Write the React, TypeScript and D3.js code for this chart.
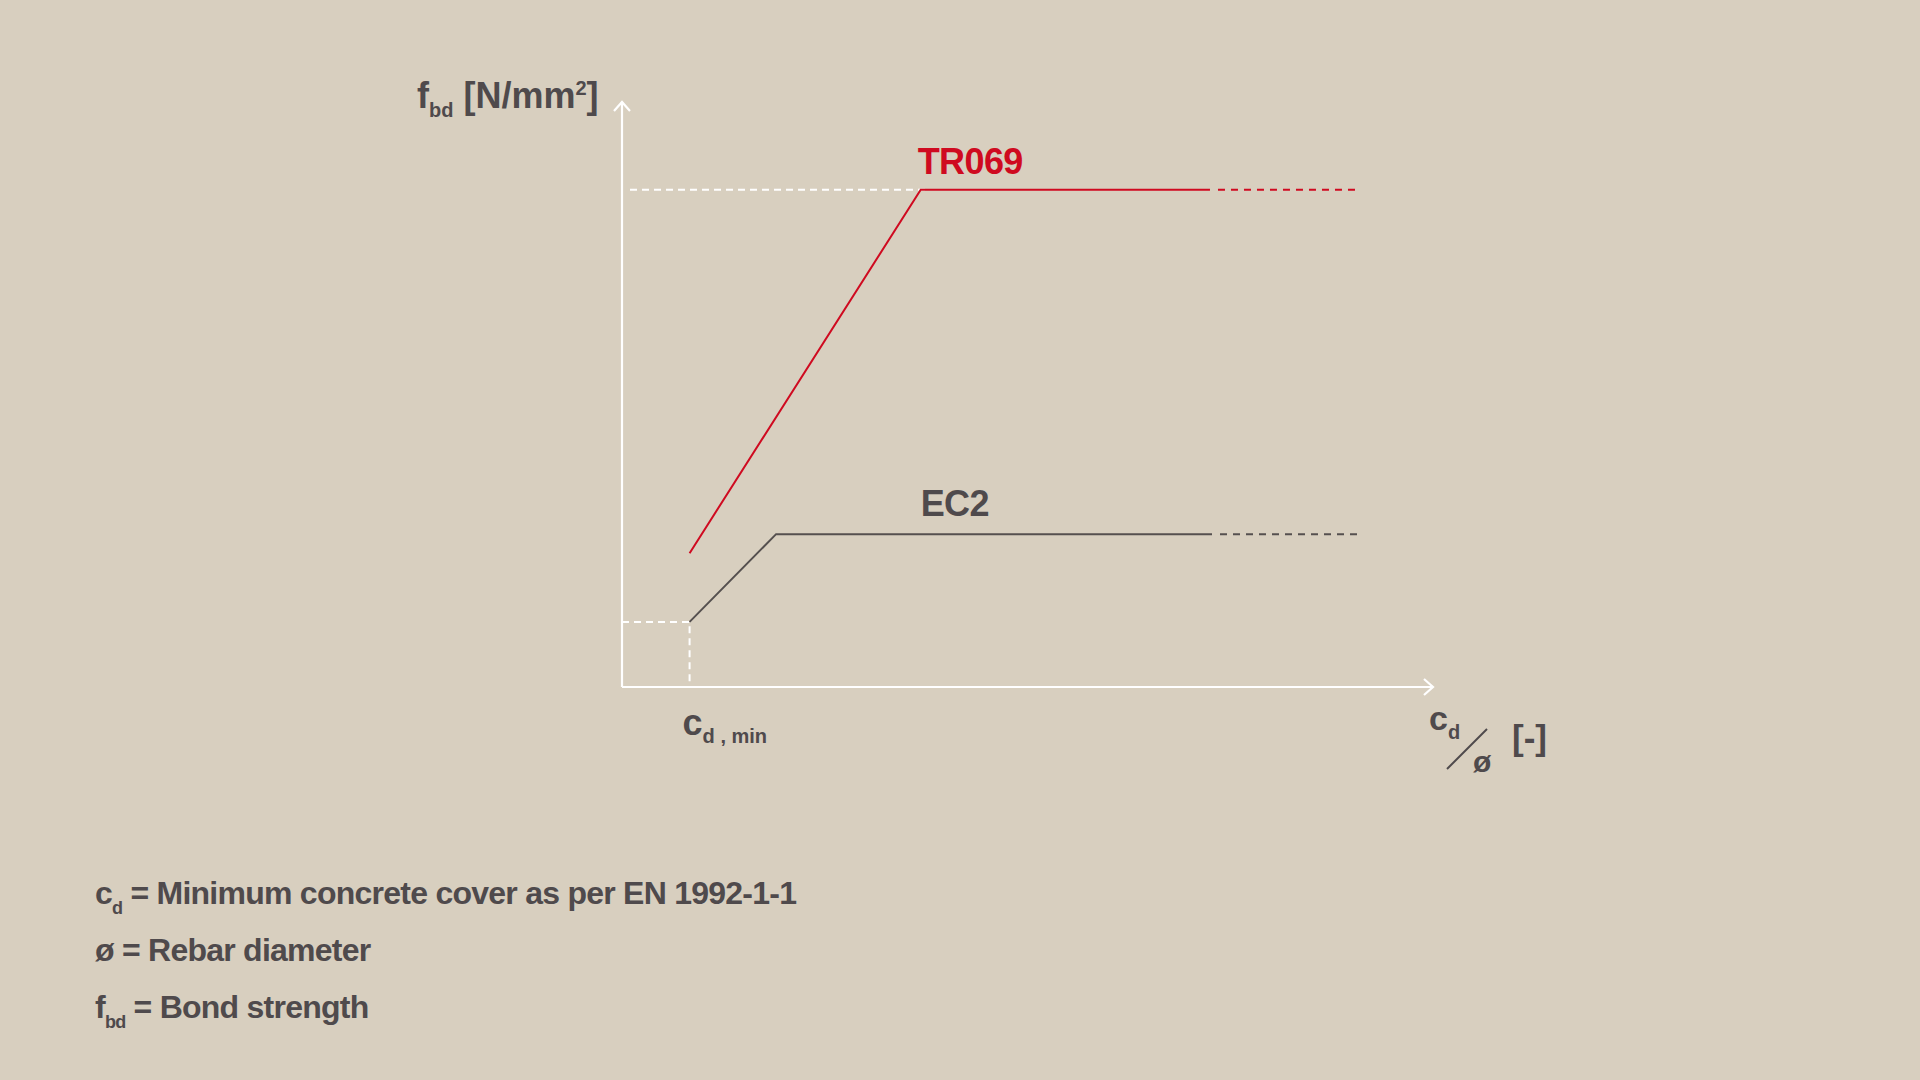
import React from "react";
import * as d3 from "d3";

// Schematic bond strength vs. relative cover (arbitrary units)
const cdMin = 1;
const tr069X = [cdMin, 4.42, 8.7];
const tr069Y = [1.83, 6.8, 6.8];
const tr069TailX = [8.7, 10.8];
const ec2X = [cdMin, 2.28, 8.73];
const ec2Y = [0.89, 2.09, 2.09];
const ec2TailX = [8.73, 10.76];

const xMax = 12;
const yMax = 8;

const legendItems = [
  { sym: "c", sub: "d", text: " = Minimum concrete cover as per EN 1992-1-1" },
  { sym: "ø", sub: "", text: " = Rebar diameter" },
  { sym: "f", sub: "bd", text: " = Bond strength" },
];

const BG = "#d8cfbf";
const TEXT = "#4f4a4c";
const RED = "#cf0a20";
const DARK = "#55504f";
const FONT = "'Liberation Sans Narrow', 'Liberation Sans', Arial, sans-serif";

const width = 1920;
const height = 1080;
const x0 = 622;
const x1 = 1433;
const y0 = 687;
const y1 = 102;

const App: React.FC = () => {
  const x = d3.scaleLinear().domain([0, xMax]).range([x0, x1]);
  const y = d3.scaleLinear().domain([0, yMax]).range([y0, y1]);

  const line = d3
    .line<[number, number]>()
    .x((d) => x(d[0]))
    .y((d) => y(d[1]));

  const trPts = tr069X.map((v, i) => [v, tr069Y[i]] as [number, number]);
  const ecPts = ec2X.map((v, i) => [v, ec2Y[i]] as [number, number]);
  const trTail = tr069TailX.map((v) => [v, tr069Y[2]] as [number, number]);
  const ecTail = ec2TailX.map((v) => [v, ec2Y[2]] as [number, number]);

  const arrow = 8;

  return (
    <svg
      width={width}
      height={height}
      style={{ position: "fixed", left: 0, top: 0, display: "block" }}
      fontFamily={FONT}
    >
      <rect width={width} height={height} fill={BG} />

      {/* guide dashes */}
      <path
        d={line([[0, tr069Y[1]], [tr069X[1], tr069Y[1]]])!}
        stroke="#fff"
        strokeWidth={2}
        strokeDasharray="7 5"
        fill="none"
        transform="translate(8,0)"
      />
      <path
        d={line([[0, ec2Y[0]], [cdMin, ec2Y[0]], [cdMin, 0]])!}
        stroke="#fff"
        strokeWidth={2}
        strokeDasharray="7 5"
        fill="none"
      />

      {/* axes */}
      <g stroke="#fff" strokeWidth={2.2} fill="none">
        <line x1={x0} y1={y0} x2={x0} y2={y1} />
        <path d={`M${x0 - arrow},${y1 + arrow + 1} L${x0},${y1} L${x0 + arrow},${y1 + arrow + 1}`} />
        <line x1={x0} y1={y0} x2={x1} y2={y0} />
        <path d={`M${x1 - arrow - 1},${y0 - arrow} L${x1},${y0} L${x1 - arrow - 1},${y0 + arrow}`} />
      </g>

      {/* series */}
      <path d={line(trPts)!} stroke={RED} strokeWidth={2} fill="none" />
      <path d={line(trTail)!} stroke={RED} strokeWidth={2} strokeDasharray="7 6" fill="none" transform="translate(8,0)" />
      <path d={line(ecPts)!} stroke={DARK} strokeWidth={2} fill="none" />
      <path d={line(ecTail)!} stroke={DARK} strokeWidth={2} strokeDasharray="7 6" fill="none" transform="translate(8,0)" />

      <text x={x(tr069X[1]) - 3} y={y(tr069Y[1]) - 16} fill={RED} fontSize={36} fontWeight="bold" letterSpacing={-0.6}>
        TR069
      </text>
      <text x={x(tr069X[1])} y={y(ec2Y[1]) - 18} fill={TEXT} fontSize={36} fontWeight="bold" letterSpacing={-0.6}>
        EC2
      </text>

      {/* y axis title */}
      <text x={417} y={108} fill={TEXT} fontSize={36} fontWeight="bold">
        f
        <tspan fontSize={20} dy={9}>bd</tspan>
        <tspan dy={-9}> [N/mm</tspan>
        <tspan fontSize={20} dy={-13}>2</tspan>
        <tspan dy={13}>]</tspan>
      </text>

      {/* c_d,min tick label */}
      <text x={x(cdMin) - 7} y={735} fill={TEXT} fontSize={36} fontWeight="bold">
        c<tspan fontSize={20} dy={8}>d , min</tspan>
      </text>

      {/* x axis title */}
      <text x={1429} y={730} fill={TEXT} fontSize={34} fontWeight="bold">
        c<tspan fontSize={20} dy={9}>d</tspan>
      </text>
      <line x1={1447} y1={769} x2={1487} y2={729} stroke={TEXT} strokeWidth={2} />
      <text x={1473} y={772} fill={TEXT} fontSize={30} fontWeight="bold">ø</text>
      <text x={1512} y={750} fill={TEXT} fontSize={35} fontWeight="bold">[-]</text>

      {/* legend */}
      {legendItems.map((d, i) => (
        <text
          key={i}
          x={95}
          y={904 + i * 57}
          fill={TEXT}
          fontSize={32}
          fontWeight="bold"
          letterSpacing={-0.75}
        >
          {d.sym}
          {d.sub ? (
            <>
              <tspan fontSize={18} dy={10}>{d.sub}</tspan>
              <tspan dy={-10}>{d.text}</tspan>
            </>
          ) : (
            <tspan>{d.text}</tspan>
          )}
        </text>
      ))}
    </svg>
  );
};

export default App;
